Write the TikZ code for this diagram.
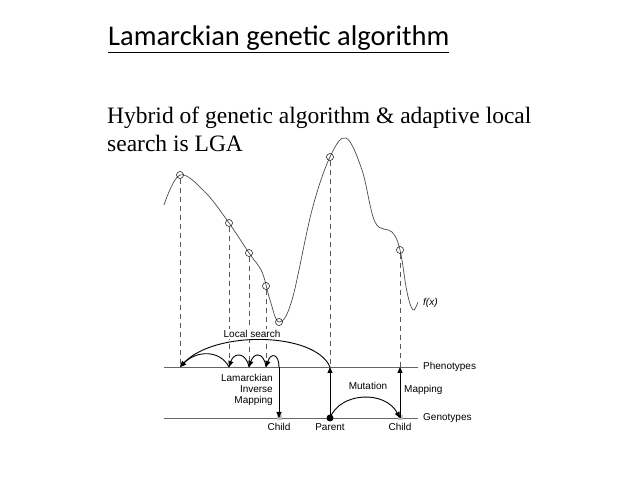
\documentclass[tikz,border=0pt]{standalone}
\usepackage{fontspec}
\setmainfont{Liberation Serif}
\newfontfamily\calib{Carlito}
\newfontfamily\arialf{Liberation Sans}
\usetikzlibrary{arrows.meta}
\begin{document}
\begin{tikzpicture}[x=1pt,y=-1pt,
  lbl/.style={font=\arialf\fontsize{10}{11}\selectfont,inner sep=1pt},
  dsh/.style={dash pattern=on 5pt off 4pt,gray!70!black,line width=0.6pt},
  pt/.style={circle,draw,minimum size=7pt,inner sep=0pt,line width=0.5pt},
  arr/.style={-{Triangle[length=6pt,width=5pt]},line width=0.9pt},
  base/.style={gray!80!black,line width=0.8pt}]
\useasboundingbox (0,0) rectangle (638,478);
\node[anchor=base west,inner sep=0pt,font=\calib\fontsize{28.5}{30}\selectfont] (title) at (108,46) {\underline{Lamarckian genetic algorithm}};
\node[anchor=base west,inner sep=0pt,font=\fontsize{23.5}{26}\selectfont] (t1) at (107,124) {Hybrid of genetic algorithm \& adaptive local};
\node[anchor=base west,inner sep=0pt,font=\fontsize{23.5}{26}\selectfont] (t2) at (107,152) {search is LGA};
% curve
\draw[gray!60!black,line width=0.7pt] plot[smooth,tension=0.6] coordinates {(164,205)(180,175)(205,192)(229,223)(249,253)(262,272)(270,300)(279,322)(292,300)(312,210)(330,157)(346,138)(362,170)(375,222)(392,232)(400,250)(407,292)(413,310)(418,302)};
\node[pt] (p1) at (180,175) {};
\node[pt] (p2) at (229,223) {};
\node[pt] (p3) at (249,253) {};
\node[pt] (p4) at (266,286) {};
\node[pt] (p5) at (279,322) {};
\node[pt] (p6) at (330,157) {};
\node[pt] (p7) at (400,250) {};
\node[lbl,anchor=west] (fx) at (422,303) {\itshape f(x)};
% base lines
\coordinate (ph0) at (164,367); \coordinate (ph1) at (418,367);
\coordinate (g0) at (164,418); \coordinate (g1) at (418,418);
\draw[base] (ph0) -- (ph1);
\draw[base] (g0) -- (g1);
\node[lbl,anchor=west] (phl) at (422,367) {Phenotypes};
\node[lbl,anchor=west] (gel) at (422,418) {Genotypes};
% phenotype points
\coordinate (a1) at (180,367); \coordinate (a2) at (229,367);
\coordinate (a3) at (249,367); \coordinate (a4) at (266,367);
\coordinate (a5) at (279,367); \coordinate (a6) at (330,367);
\coordinate (a7) at (400,367);
\draw[dsh] (p1) -- (a1); \draw[dsh] (p2) -- (a2); \draw[dsh] (p3) -- (a3);
\draw[dsh] (p4) -- (a4); \draw[dsh] (p6) -- (a6); \draw[dsh] (p7) -- (a7);
% genotype points
\coordinate (c1) at (279,418); \coordinate (par) at (330,418); \coordinate (c2) at (400,418);
\fill (par) circle (3.5pt);
\fill[gray!50] (c1) ++(-2.5,-2.5) rectangle ++(5,5);
\fill[gray!50] (c2) ++(-2.5,-2.5) rectangle ++(5,5);
% local search arcs
\draw[arr] (a6) .. controls (315,332) and (215,330) .. (a1);
\draw[arr] (a2) .. controls (220,350) and (197,350) .. (a1);
\draw[arr] (a3) .. controls (246,352) and (234,352) .. (a2);
\draw[arr] (a4) .. controls (264,352) and (254,352) .. (a3);
\draw[arr] (a5) .. controls (279,354) and (271,352) .. (a4);
\node[lbl,fill=white] (ls) at (252,334) {Local search};
% vertical arrows
\draw[arr] (a5) -- (c1);
\draw[arr] (par) -- (a6);
\draw[arr] (c2) -- (a7);
\draw[arr] (par) .. controls (340,392) and (385,390) .. (c2);
\node[lbl] (mut) at (368,386) {Mutation};
\node[lbl,align=right,anchor=north east] (lim) at (274,373) {Lamarckian\\Inverse\\Mapping};
\node[lbl,anchor=west] (map) at (403,390) {Mapping};
\node[lbl] (ch1) at (279,427) {Child};
\node[lbl] (pl) at (330,427) {Parent};
\node[lbl] (ch2) at (400,427) {Child};
\end{tikzpicture}
\end{document}
